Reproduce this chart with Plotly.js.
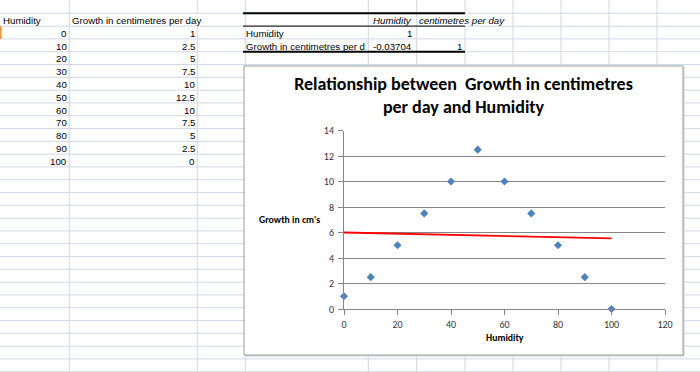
<!DOCTYPE html>
<html>
<head>
<meta charset="utf-8">
<script src="https://cdn.plot.ly/plotly-3.0.1.min.js"></script>
<style>
  html, body { margin: 0; padding: 0; background: #fff; }
  #chart { width: 700px; height: 372px; }
</style>
</head>
<body>
<div id="chart"></div>
<script>
// ---------- data ----------
const humidity = [0, 10, 20, 30, 40, 50, 60, 70, 80, 90, 100];
const growth = [1, 2.5, 5, 7.5, 10, 12.5, 10, 7.5, 5, 2.5, 0];
const sheetHeaders = ['Humidity', 'Growth in centimetres per day'];
const corrColHeaders = ['Humidity', 'centimetres per day'];
const corrRowLabels = ['Humidity', 'Growth in centimetres per d'];
const corrHumidity = [1, -0.03704];
const corrGrowth = [null, 1];
const xTicks = [0, 20, 40, 60, 80, 100, 120];
const yTicks = [0, 2, 4, 6, 8, 10, 12, 14];
const chartTitle = 'Relationship between  Growth in centimetres<br>per day and Humidity';
const xTitle = 'Humidity';
const yTitle = "Growth in cm's";

// ---------- helpers (pixel -> paper) ----------
const W = 700, H = 372;
const px = x => x / W;
const py = y => 1 - y / H;
const rowTop = r => 0.5 + 12.8 * r;
const rowMid = r => rowTop(r) + 7.2;
const colEdges = [69.3, 197.3, 245.3, 368.3, 416.7, 465, 513, 561, 609, 657];

// ---------- linear trendline from data ----------
const n = humidity.length;
const mx = humidity.reduce((a, b) => a + b, 0) / n;
const my = growth.reduce((a, b) => a + b, 0) / n;
let sxy = 0, sxx = 0;
for (let i = 0; i < n; i++) { sxy += (humidity[i] - mx) * (growth[i] - my); sxx += (humidity[i] - mx) ** 2; }
const slope = sxy / sxx, intercept = my - slope * mx;
const tx = [Math.min(...humidity), Math.max(...humidity)];
const ty = tx.map(v => intercept + slope * v);

// ---------- spreadsheet grid shapes ----------
const gridColor = '#d0d7e5';
const shapes = [];
for (let r = 1; r <= 29; r++) {
  shapes.push({type: 'line', xref: 'paper', yref: 'paper', x0: 0, x1: 1, y0: py(rowTop(r)), y1: py(rowTop(r)),
    line: {color: gridColor, width: 1}, layer: 'below'});
}
colEdges.forEach(x => shapes.push({type: 'line', xref: 'paper', yref: 'paper', x0: px(x), x1: px(x), y0: 0, y1: 1,
  line: {color: gridColor, width: 1}, layer: 'below'}));
// hide gridlines where text overflows
shapes.push({type: 'rect', xref: 'paper', yref: 'paper', x0: px(195), x1: px(200), y0: py(rowTop(2) - 0.6), y1: py(rowTop(1) + 0.6),
  line: {width: 0}, fillcolor: '#fff', layer: 'below'});
shapes.push({type: 'rect', xref: 'paper', yref: 'paper', x0: px(462), x1: px(468), y0: py(rowTop(2) - 0.6), y1: py(rowTop(1) + 0.6),
  line: {width: 0}, fillcolor: '#fff', layer: 'below'});
// active row marker
shapes.push({type: 'line', xref: 'paper', yref: 'paper', x0: px(0.7), x1: px(0.7), y0: py(rowTop(2)), y1: py(rowTop(3)),
  line: {color: '#f29a3a', width: 2}, layer: 'below'});
// correlation table borders
shapes.push({type: 'line', xref: 'paper', yref: 'paper', x0: px(243), x1: px(465), y0: py(rowTop(1)), y1: py(rowTop(1)),
  line: {color: '#000', width: 2}, layer: 'below'});
shapes.push({type: 'line', xref: 'paper', yref: 'paper', x0: px(243), x1: px(465), y0: py(rowTop(2)), y1: py(rowTop(2)),
  line: {color: '#000', width: 1}, layer: 'below'});
shapes.push({type: 'line', xref: 'paper', yref: 'paper', x0: px(243), x1: px(465), y0: py(rowTop(4)), y1: py(rowTop(4)),
  line: {color: '#000', width: 2}, layer: 'below'});
// chart area with faint shadow
shapes.push({type: 'rect', xref: 'paper', yref: 'paper', x0: px(245), x1: px(684.2), y0: py(356.2), y1: py(67),
  line: {color: '#dcdcdc', width: 1}, fillcolor: '#dcdcdc', layer: 'below'});
shapes.push({type: 'rect', xref: 'paper', yref: 'paper', x0: px(244), x1: px(683), y0: py(355), y1: py(66),
  line: {color: '#9b9b9b', width: 1}, fillcolor: '#fff', layer: 'below'});

// ---------- cell texts ----------
const cellFont = {family: 'Liberation Sans, Arial, sans-serif', size: 9.7, color: '#000'};
const cellItalic = Object.assign({}, cellFont, {style: 'italic'});
const annotations = [];
function cell(text, x, r, anchor, font) {
  annotations.push({text: String(text), x: px(x), y: py(rowMid(r)), xref: 'paper', yref: 'paper',
    xanchor: anchor, yanchor: 'middle', showarrow: false, font: font || cellFont, borderpad: 0, borderwidth: 0});
}
cell(sheetHeaders[0], 2.5, 1, 'left');
cell(sheetHeaders[1], 71.5, 1, 'left');
humidity.forEach((v, i) => cell(v, 67, 2 + i, 'right'));
growth.forEach((v, i) => cell(v, 195.3, 2 + i, 'right'));
cell(corrColHeaders[0], 412, 1, 'right', cellItalic);
cell(corrColHeaders[1], 419, 1, 'left', cellItalic);
corrRowLabels.forEach((t, i) => cell(t, 246, 2 + i, 'left'));
corrHumidity.forEach((v, i) => { if (v !== null) cell(v, 412, 2 + i, 'right'); });
corrGrowth.forEach((v, i) => { if (v !== null) cell(v, 461.5, 2 + i, 'right'); });

// chart axis titles
const chartFontFamily = 'Carlito, Lato, "Open Sans", sans-serif';
annotations.push({text: yTitle, x: px(289.5), y: py(220), xref: 'paper', yref: 'paper', xanchor: 'center', yanchor: 'middle',
  showarrow: false, font: {family: chartFontFamily, size: 9.8, color: '#000', weight: 700}});
annotations.push({text: xTitle, x: px(504.5), y: py(338), xref: 'paper', yref: 'paper', xanchor: 'center', yanchor: 'middle',
  showarrow: false, font: {family: chartFontFamily, size: 9.8, color: '#000', weight: 700}});

// ---------- traces ----------
const traces = [
  {type: 'scatter', mode: 'markers', x: humidity, y: growth, name: 'Growth in centimetres per day',
    marker: {symbol: 'diamond', size: 6.3, color: '#4f81bd', line: {width: 0}}, cliponaxis: false, hoverinfo: 'x+y'},
  {type: 'scatter', mode: 'lines', x: tx, y: ty, name: 'Linear trendline',
    line: {color: '#ff0000', width: 1.8}, cliponaxis: false, hoverinfo: 'skip'}
];

const axisCommon = {
  showline: true, linecolor: '#868686', linewidth: 1, ticks: 'outside', ticklen: 5, tickcolor: '#868686', tickwidth: 1,
  zeroline: false, fixedrange: true, tickfont: {family: chartFontFamily, size: 10, color: '#333'}
};
const layout = {
  width: W, height: H,
  margin: {l: 0, r: 0, t: 0, b: 0, pad: 0},
  paper_bgcolor: '#fff', plot_bgcolor: 'rgba(0,0,0,0)',
  showlegend: false,
  title: {text: chartTitle, x: px(463.5), xref: 'paper', xanchor: 'center', y: py(90), yref: 'paper', yanchor: 'top',
    font: {family: chartFontFamily, size: 18, color: '#000', weight: 700}},
  xaxis: Object.assign({}, axisCommon, {domain: [px(344), px(665)], range: [0, 120], tickmode: 'array', tickvals: xTicks,
    showgrid: false, ticklabelstandoff: 1}),
  yaxis: Object.assign({}, axisCommon, {domain: [py(309), py(130.5)], range: [0, 14], tickmode: 'array', tickvals: yTicks,
    showgrid: true, gridcolor: '#868686', gridwidth: 1, ticklabelstandoff: 2}),
  shapes: shapes,
  annotations: annotations
};
Plotly.newPlot('chart', traces, layout, {displayModeBar: false, staticPlot: true});
</script>
</body>
</html>
